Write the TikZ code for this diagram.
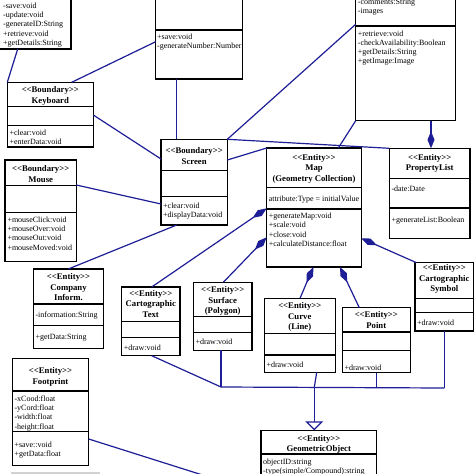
\documentclass[tikz,border=0pt]{standalone}
\usepackage{fontspec}
\setmainfont{Liberation Serif}
\usetikzlibrary{arrows.meta,calc}
\definecolor{connc}{RGB}{30,30,150}
\newcommand{\stereo}[1]{<\kern0pt<#1>\kern0pt>}
\begin{document}
\begin{tikzpicture}[x=1pt,y=-1pt,
 box/.style={draw=black,line width=1.1pt,inner sep=0pt,outer sep=0pt,anchor=north west,fill=white},
 sepline/.style={draw=black,line width=1.1pt},
 mtext/.style={font=\fontsize{8}{9.2}\selectfont,align=left,inner sep=0pt,anchor=north west},
 ttext/.style={font=\bfseries\fontsize{8.7}{10.5}\selectfont,align=center,inner sep=0pt,anchor=north},
 conn/.style={draw=connc,line width=1.2pt},
 agg/.style={conn,{Diamond[length=17pt,width=7pt]}-},
 gen/.style={conn,-{Triangle[length=9pt,width=18pt,fill=white]}}
]
\useasboundingbox[fill=white] (0,0) rectangle (474,474);

% ---------- boxes ----------
\node[box,minimum width=73pt,minimum height=79pt] (b1) at (-2,-30) {};
\node[box,minimum width=86.6pt,minimum height=109pt] (b2) at (155.7,-30) {};
\draw[sepline] (b2.west |- 0,30) -- (b2.east |- 0,30);
\node[box,minimum width=100pt,minimum height=150.7pt] (b3) at (355.7,-30) {};
\draw[sepline] (b3.west |- 0,26) -- (b3.east |- 0,26);

\node[box,minimum width=86pt,minimum height=64.7pt] (kb) at (7.3,82.3) {};
\draw[sepline] (kb.west |- 0,106.7) -- (kb.east |- 0,106.7);
\draw[sepline] (kb.west |- 0,125.7) -- (kb.east |- 0,125.7);

\node[box,minimum width=71.3pt,minimum height=101.7pt] (mouse) at (5,160) {};
\draw[sepline] (mouse.west |- 0,185.7) -- (mouse.east |- 0,185.7);
\draw[sepline] (mouse.west |- 0,212.3) -- (mouse.east |- 0,212.3);

\node[box,minimum width=70.4pt,minimum height=79.3pt] (comp) at (33.3,269) {};
\draw[sepline] (comp.west |- 0,304) -- (comp.east |- 0,304);
\draw[sepline] (comp.west |- 0,325.7) -- (comp.east |- 0,325.7);

\node[box,minimum width=76.4pt,minimum height=107pt] (foot) at (12.3,358.7) {};
\draw[sepline] (foot.west |- 0,391) -- (foot.east |- 0,391);
\draw[sepline] (foot.west |- 0,431.7) -- (foot.east |- 0,431.7);

\node[box,minimum width=66.3pt,minimum height=85.7pt] (screen) at (161,139.3) {};
\draw[sepline] (screen.west |- 0,170.3) -- (screen.east |- 0,170.3);
\draw[sepline] (screen.west |- 0,196.7) -- (screen.east |- 0,196.7);

\node[box,minimum width=94.6pt,minimum height=119pt] (map) at (266.7,148) {};
\draw[sepline] (map.west |- 0,187.7) -- (map.east |- 0,187.7);
\draw[sepline] (map.west |- 0,209) -- (map.east |- 0,209);

\node[box,minimum width=80.7pt,minimum height=90pt] (plist) at (389.3,148.3) {};
\draw[sepline] (plist.west |- 0,178.3) -- (plist.east |- 0,178.3);
\draw[sepline] (plist.west |- 0,208) -- (plist.east |- 0,208);

\node[box,minimum width=58.7pt,minimum height=68.3pt] (csym) at (415,262.7) {};
\draw[sepline] (csym.west |- 0,298.7) -- (csym.east |- 0,298.7);
\draw[sepline] (csym.west |- 0,312.7) -- (csym.east |- 0,312.7);

\node[box,minimum width=58.3pt,minimum height=68.7pt] (ctext) at (121.7,287) {};
\draw[sepline] (ctext.west |- 0,321.7) -- (ctext.east |- 0,321.7);
\draw[sepline] (ctext.west |- 0,337.3) -- (ctext.east |- 0,337.3);

\node[box,minimum width=58.7pt,minimum height=68pt] (surf) at (193.3,282.3) {};
\draw[sepline] (surf.west |- 0,316.7) -- (surf.east |- 0,316.7);
\draw[sepline] (surf.west |- 0,332.3) -- (surf.east |- 0,332.3);

\node[box,minimum width=71pt,minimum height=74pt] (curve) at (264.3,298.3) {};
\draw[sepline] (curve.west |- 0,333.3) -- (curve.east |- 0,333.3);
\draw[sepline] (curve.west |- 0,355) -- (curve.east |- 0,355);

\node[box,minimum width=68pt,minimum height=65pt] (point) at (342.3,307.7) {};
\draw[sepline] (point.west |- 0,332) -- (point.east |- 0,332);
\draw[sepline] (point.west |- 0,350.7) -- (point.east |- 0,350.7);

\node[box,minimum width=115.7pt,minimum height=60pt] (geo) at (261,430.3) {};
\draw[sepline] (geo.west |- 0,454) -- (geo.east |- 0,454);

\fill[gray!35] (11,471.5) rectangle (100,474);

% ---------- texts ----------
\node[mtext] (b1m) at (3,2.7) {-save:void\\-update:void\\-generateID:String\\+retrieve:void\\+getDetails:String};
\node[mtext] (b2m) at (157,33.7) {+save:void\\-generateNumber:Number};
\node[mtext] (b3a) at (357.7,-1) {-comments:String\\-images};
\node[mtext] (b3m) at (357.7,30.3) {+retrieve:void\\-checkAvailability:Boolean\\+getDetails:String\\+getImage:Image};

\node[ttext] (kbt) at (50.3,86.7) {\stereo{Boundary}\\Keyboard};
\node[mtext] (kbm) at (9.3,129.3) {+clear:void\\+enterData:void};

\node[ttext] (mouset) at (40.7,165.7) {\stereo{Boundary}\\Mouse};
\node[mtext] (mousem) at (7.3,216.7) {+mouseClick:void\\+mouseOver:void\\+mouseOut:void\\+mouseMoved:void};

\node[ttext] (compt) at (68.5,273.7) {\stereo{Entity}\\Company\\Inform.};
\node[mtext] (compa) at (35.3,312) {-information:String};
\node[mtext] (compm) at (35.3,334.3) {+getData:String};

\node[ttext] (foott) at (50.5,367.4) {\stereo{Entity}\\Footprint};
\node[mtext] (foota) at (14.3,395.7) {-xCood:float\\-yCord:float\\-width:float\\-height:float};
\node[mtext] (footm) at (14.3,442) {+save::void\\+getData:float};

\node[ttext] (screent) at (194.2,147.7) {\stereo{Boundary}\\Screen};
\node[mtext] (screenm) at (163,202.7) {+clear:void\\+displayData:void};

\node[ttext] (mapt) at (314,154) {\stereo{Entity}\\Map\\(Geometry Collection)};
\node[mtext] (mapa) at (268.7,195.3) {attribute:Type = initialValue};
\node[mtext] (mapm) at (268.7,213) {+generateMap:void\\+scale:void\\+close:void\\+calculateDistance:float};

\node[ttext] (plistt) at (429.7,154) {\stereo{Entity}\\PropertyList};
\node[mtext] (plista) at (391.3,186) {-date:Date};
\node[mtext] (plistm) at (391.3,217) {+generateList:Boolean};

\node[ttext] (csymt) at (444.3,264.5) {\stereo{Entity}\\Cartographic\\Symbol};
\node[mtext] (csymm) at (417,319.3) {+draw:void};

\node[ttext] (ctextt) at (150.8,290) {\stereo{Entity}\\Cartographic\\Text};
\node[mtext] (ctextm) at (123.7,344.7) {+draw:void};

\node[ttext] (surft) at (222.7,286.7) {\stereo{Entity}\\Surface\\(Polygon)};
\node[mtext] (surfm) at (195.3,338.7) {+draw:void};

\node[ttext] (curvet) at (299.8,302.4) {\stereo{Entity}\\Curve\\(Line)};
\node[mtext] (curvem) at (266.3,361.3) {+draw:void};

\node[ttext] (pointt) at (376.3,311.7) {\stereo{Entity}\\Point};
\node[mtext] (pointm) at (344.3,364.3) {+draw:void};

\node[ttext] (geot) at (318.8,435) {\stereo{Entity}\\GeometricObject};
\node[mtext] (geoa) at (263,458.7) {objectID:string\\-type(simple/Compound):string};

% ---------- connectors ----------
\draw[conn] ([xshift=19.7pt]b1.south west) -- (kb.north west);
\draw[conn] ([xshift=64.4pt]kb.north west) -- ([yshift=-71.7pt]b2.north west);
\draw[conn] ([yshift=-32.7pt]kb.north east) -- ([yshift=-19.7pt]screen.north west);
\draw[conn] ([yshift=-25pt]mouse.north east) -- ([yshift=-64.7pt]screen.north west);
\draw[conn] ([xshift=35pt]comp.north west) -- ([xshift=15.7pt]screen.south west);
\draw[conn] ([xshift=21pt]b2.south west) -- ([xshift=15.7pt]screen.north west);
\draw[conn] (screen.north east) -- ([yshift=-54.3pt]b3.north west);
\draw[conn] (screen.north east) -- (plist.north west);
\draw[conn] ([yshift=-20.7pt]screen.north east) -- (map.north west);
\draw[conn] (b3.south west) -- ([xshift=71.6pt]map.north west);
\draw[conn,-{Diamond[length=17pt,width=7pt]}] ([xshift=75.3pt]b3.south west) -- ([xshift=41.7pt]plist.north west);

\draw[agg] ([yshift=-60.3pt]map.north west) -- ([xshift=30pt]ctext.north west);
\draw[agg] ([yshift=-89.3pt]map.north west) -- ([xshift=30pt]surf.north west);
\draw[agg] ([xshift=46.6pt]map.south west) -- ([xshift=35.7pt]curve.north west);
\draw[agg] ([xshift=73.3pt]map.south west) -- ([xshift=17pt]point.north west);
\draw[agg] ([yshift=-90.3pt]map.north east) -- ([xshift=1.5pt]csym.north west);

% generalisation tree
\coordinate (jl) at (221,387);
\coordinate (jr) at (444.3,388);
\coordinate (jt) at (314.3,387.2);
\draw[conn] ([xshift=30pt]ctext.south west) -- (jl);
\draw[conn] (jl |- surf.south) -- (jl);
\draw[conn] (jl) -- (jr);
\draw[conn] (point.south) -- (point.south |- jl);
\draw[conn] (csym.south) -- (csym.south |- jr);
\draw[conn] ([xshift=52.4pt]curve.south west) -- (jt);
\draw[gen] (jt) -- (jt |- geo.north);

\coordinate (fend) at (212,478);
\draw[conn] ([yshift=-80.3pt]foot.north east) -- (fend);
\end{tikzpicture}
\end{document}
